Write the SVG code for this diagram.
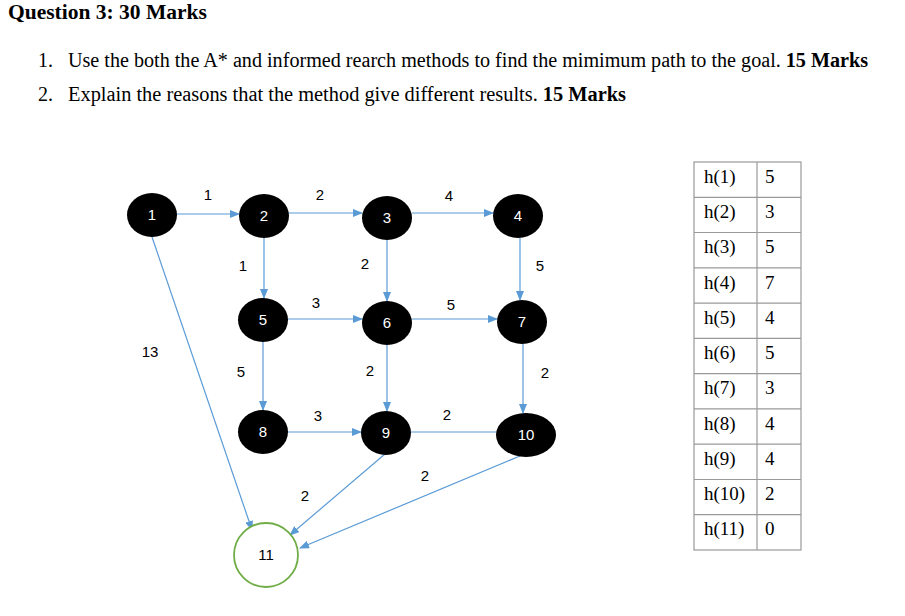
<svg xmlns="http://www.w3.org/2000/svg" width="905" height="616" viewBox="0 0 905 616">
<style>
.t{font-family:"Liberation Serif",serif;fill:#000}
.n{fill:#000}
.nl{font-family:"Liberation Sans",Arial,sans-serif;font-size:15px;fill:#fff;text-anchor:middle}
.el{font-family:"Liberation Sans",Arial,sans-serif;font-size:15px;fill:#000;text-anchor:middle}
.e{stroke:#5b9bd5;stroke-width:1.2;fill:none}
.a{marker-end:url(#ar)}
.tb{font-family:"Liberation Serif",serif;font-size:19px;fill:#000}
</style>
<defs><marker id="ar" markerWidth="10" markerHeight="8" refX="9" refY="4" orient="auto" markerUnits="userSpaceOnUse"><path d="M0,0L10,4L0,8z" fill="#5b9bd5"/></marker></defs>
<rect width="905" height="616" fill="#fff"/>
<text class="t" x="8" y="19" font-size="21.5" font-weight="bold">Question 3: 30 Marks</text>
<text class="t" x="38" y="67" font-size="20">1.</text>
<text class="t" x="68" y="67" font-size="20" textLength="800" lengthAdjust="spacingAndGlyphs">Use the both the A* and informed rearch methods to find the mimimum path to the goal.  <tspan font-weight="bold">15 Marks</tspan></text>
<text class="t" x="38" y="101" font-size="20">2.</text>
<text class="t" x="68" y="101" font-size="20" textLength="558" lengthAdjust="spacingAndGlyphs">Explain the reasons that the method give different results.  <tspan font-weight="bold">15 Marks</tspan></text>
<g id="connectors">
<line class="e a" x1="177" y1="214" x2="239" y2="214"/>
<line class="e a" x1="289" y1="213" x2="362" y2="213"/>
<line class="e a" x1="412" y1="213" x2="493" y2="213"/>
<line class="e a" x1="264" y1="238" x2="264" y2="298"/>
<line class="e a" x1="387" y1="240" x2="387" y2="301"/>
<line class="e a" x1="520" y1="238" x2="520" y2="300"/>
<line class="e a" x1="288" y1="319" x2="362" y2="319"/>
<line class="e a" x1="412" y1="319" x2="497" y2="319"/>
<line class="e a" x1="263" y1="342" x2="263" y2="410"/>
<line class="e a" x1="387" y1="345" x2="387" y2="411"/>
<line class="e a" x1="523" y1="344" x2="523" y2="413"/>
<line class="e a" x1="288" y1="432" x2="361" y2="432"/>
<line class="e" x1="411" y1="432" x2="496" y2="432"/>
<line class="e a" x1="152" y1="237" x2="252" y2="530"/>
<line class="e a" x1="385" y1="454" x2="290" y2="535"/>
<line class="e a" x1="520" y1="456" x2="300" y2="548"/>
</g>
<g id="edge-labels">
<text class="el" x="208" y="200">1</text>
<text class="el" x="320" y="200">2</text>
<text class="el" x="449" y="201">4</text>
<text class="el" x="243" y="271">1</text>
<text class="el" x="365" y="269">2</text>
<text class="el" x="540" y="271">5</text>
<text class="el" x="316" y="308">3</text>
<text class="el" x="451" y="310">5</text>
<text class="el" x="150" y="357">13</text>
<text class="el" x="241" y="377">5</text>
<text class="el" x="370" y="376">2</text>
<text class="el" x="545" y="378">2</text>
<text class="el" x="318" y="421">3</text>
<text class="el" x="447" y="420">2</text>
<text class="el" x="425" y="481">2</text>
<text class="el" x="305" y="501">2</text>
</g>
<g id="n1"><ellipse class="n" cx="152" cy="215" rx="25" ry="22"/><text class="nl" x="152" y="220">1</text></g>
<g id="n2"><ellipse class="n" cx="264" cy="216" rx="25" ry="22"/><text class="nl" x="264" y="221">2</text></g>
<g id="n3"><ellipse class="n" cx="387" cy="218" rx="25" ry="22"/><text class="nl" x="387" y="223">3</text></g>
<g id="n4"><ellipse class="n" cx="518" cy="216" rx="25" ry="22"/><text class="nl" x="518" y="221">4</text></g>
<g id="n5"><ellipse class="n" cx="263" cy="320" rx="25" ry="22"/><text class="nl" x="263" y="325">5</text></g>
<g id="n6"><ellipse class="n" cx="387" cy="323" rx="25" ry="22"/><text class="nl" x="387" y="328">6</text></g>
<g id="n7"><ellipse class="n" cx="522" cy="322" rx="25" ry="22"/><text class="nl" x="522" y="327">7</text></g>
<g id="n8"><ellipse class="n" cx="263" cy="432" rx="25" ry="22"/><text class="nl" x="263" y="437">8</text></g>
<g id="n9"><ellipse class="n" cx="386" cy="433" rx="25" ry="22"/><text class="nl" x="386" y="438">9</text></g>
<g id="n10"><ellipse class="n" cx="526" cy="435" rx="30" ry="22"/><text class="nl" x="526" y="440" font-size="14">10</text></g>
<g id="n11"><circle cx="266" cy="555" r="32" fill="#fff" stroke="#70ad47" stroke-width="1.8"/><text class="el" x="266" y="560">11</text></g>
<g id="table" stroke="#999" stroke-width="1.2">
<rect x="694" y="162" width="107" height="388" fill="none"/>
<line x1="757" y1="162" x2="757" y2="550"/>
<line x1="694" y1="197.3" x2="801" y2="197.3"/>
<line x1="694" y1="232.5" x2="801" y2="232.5"/>
<line x1="694" y1="267.8" x2="801" y2="267.8"/>
<line x1="694" y1="303.1" x2="801" y2="303.1"/>
<line x1="694" y1="338.4" x2="801" y2="338.4"/>
<line x1="694" y1="373.6" x2="801" y2="373.6"/>
<line x1="694" y1="408.9" x2="801" y2="408.9"/>
<line x1="694" y1="444.2" x2="801" y2="444.2"/>
<line x1="694" y1="479.5" x2="801" y2="479.5"/>
<line x1="694" y1="514.7" x2="801" y2="514.7"/>
</g>
<g id="table-text" class="tb">
<text x="704" y="183">h(1)</text><text x="765" y="183">5</text>
<text x="704" y="218">h(2)</text><text x="765" y="218">3</text>
<text x="704" y="253">h(3)</text><text x="765" y="253">5</text>
<text x="704" y="289">h(4)</text><text x="765" y="289">7</text>
<text x="704" y="324">h(5)</text><text x="765" y="324">4</text>
<text x="704" y="359">h(6)</text><text x="765" y="359">5</text>
<text x="704" y="394">h(7)</text><text x="765" y="394">3</text>
<text x="704" y="430">h(8)</text><text x="765" y="430">4</text>
<text x="704" y="465">h(9)</text><text x="765" y="465">4</text>
<text x="704" y="500">h(10)</text><text x="765" y="500">2</text>
<text x="704" y="535">h(11)</text><text x="765" y="535">0</text>
</g>
</svg>
